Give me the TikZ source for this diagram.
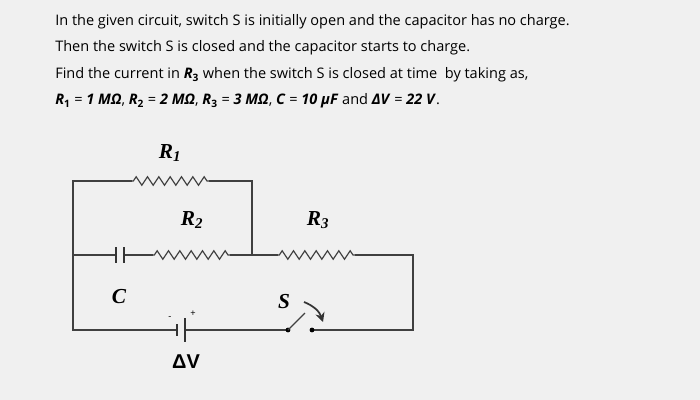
\documentclass[tikz,border=0pt]{standalone}
\usepackage{fontspec}
\setmainfont{Open Sans}
\newfontfamily\serifb{Liberation Serif}
\newfontfamily\sansb{Liberation Sans}
\usetikzlibrary{decorations.pathmorphing,arrows.meta,calc}
\begin{document}
\begin{tikzpicture}[x=0.75pt,y=-0.75pt,
  wire/.style={draw=black!75,line width=0.9pt},
  res/.style={decorate,decoration={zigzag,segment length=8.5pt,amplitude=3.2pt,pre length=1pt,post length=1pt}},
  txt/.style={anchor=west,inner sep=0,font=\fontsize{10.9pt}{13pt}\selectfont},
  lbl/.style={font=\serifb\bfseries\itshape\fontsize{16pt}{17pt}\selectfont,inner sep=0}]
\fill[black!6] (0,0) rectangle (700,400);
\useasboundingbox (0,0) rectangle (700,400);
\node[txt] (l1) at (55,22) {In the given circuit, switch S is initially open and the capacitor has no charge.};
\node[txt] (l2) at (55,48) {Then the switch S is closed and the capacitor starts to charge.};
\node[txt] (l3) at (55,75) {Find the current in \textbf{\textit{R}}$_{\mathbf 3}$ when the switch S is closed at time\ \ by taking as,};
\node[txt] (l4) at (55,101) {\textbf{\textit{R}}$_{\mathbf 1}$ = \textbf{\textit{1 MΩ}}, \textbf{\textit{R}}$_{\mathbf 2}$ = \textbf{\textit{2 MΩ}}, \textbf{\textit{R}}$_{\mathbf 3}$ = \textbf{\textit{3 MΩ}}, \textbf{\textit{C}} = \textbf{\textit{10 μF}} and \textbf{\textit{ΔV}} = \textbf{\textit{22 V}}.};
% coordinates
\coordinate (tl) at (73,181); \coordinate (tr) at (252,181);
\coordinate (ml) at (73,255); \coordinate (mj) at (252,255); \coordinate (mr) at (413,255);
\coordinate (bl) at (73,330); \coordinate (br) at (413,330);
\coordinate (r1a) at (132,181); \coordinate (r1b) at (209,181);
\coordinate (r2a) at (153,255); \coordinate (r2b) at (230,255);
\coordinate (r3a) at (278,255); \coordinate (r3b) at (355,255);
\coordinate (c1) at (116,255); \coordinate (c2) at (124,255);
\coordinate (b1) at (177,330); \coordinate (b2) at (185,330);
\coordinate (s1) at (288,330); \coordinate (s2) at (312,330);
\draw[wire] (r1a) -- (tl) -- (bl) -- (b1);
\draw[wire] (r1b) -- (tr) -- (mj);
\draw[wire,res] (r1a) -- (r1b);
\draw[wire] (ml) -- (c1); \draw[wire] (c2) -- (r2a);
\draw[wire,res] (r2a) -- (r2b);
\draw[wire] (r2b) -- (r3a);
\draw[wire,res] (r3a) -- (r3b);
\draw[wire] (r3b) -- (mr) -- (br) -- (s2);
\draw[wire] (b2) -- (s1);
\draw[black!80,line width=1.3pt] ($(c1)+(0,-8)$) -- ($(c1)+(0,8)$) ($(c2)+(0,-8)$) -- ($(c2)+(0,8)$);
\draw[black!80,line width=1.3pt] ($(b1)+(0,-6)$) -- ($(b1)+(0,6)$) ($(b2)+(0,-12)$) -- ($(b2)+(0,12)$);
\node[font=\scriptsize] (minus) at (170,318) {-};
\node[font=\scriptsize] (plus) at (193,314) {+};
\fill (s1) circle (1.8pt); \fill (s2) circle (1.8pt);
\draw[wire] (s1) -- (305,313);
\draw[black!80,line width=1.3pt,-{Stealth[length=7pt,width=7pt]}] (304,302) to[bend left=25] (323,322);
\node[lbl] (R1) at (170,153) {R\textsubscript{1}};
\node[lbl] (R2) at (192,220) {R\textsubscript{2}};
\node[lbl] (R3) at (318,220) {R\textsubscript{3}};
\node[lbl] (C) at (119,297) {C};
\node[lbl] (S) at (284,302) {S};
\node[font=\sansb\bfseries\fontsize{15pt}{16pt}\selectfont,inner sep=0] (DV) at (186,362) {ΔV};
\end{tikzpicture}
\end{document}
